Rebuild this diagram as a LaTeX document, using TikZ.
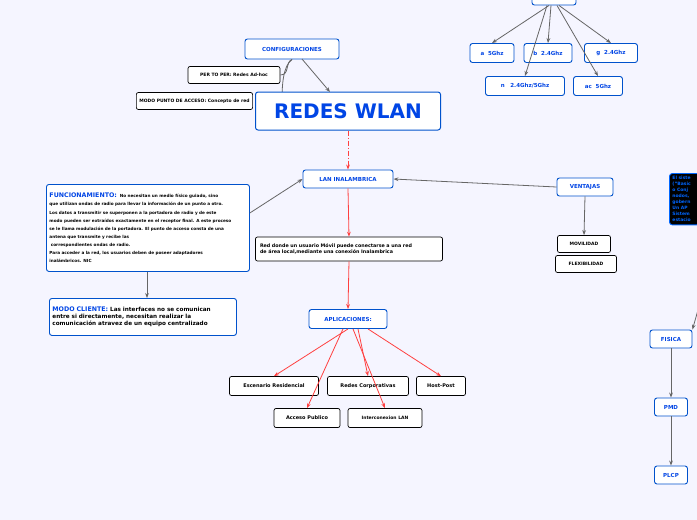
\documentclass[tikz,border=0pt]{standalone}
\usepackage{fontspec}
\setmainfont{DejaVu Sans}
\usetikzlibrary{arrows.meta}
\begin{document}
\begin{tikzpicture}[x=1pt,y=-1pt,
  blue box/.style={draw=blue!60!cyan!80!black,line width=0.9pt,rounded corners=2.5pt,fill=white,text=blue!70!cyan!90!black,font=\bfseries\fontsize{5.5}{6}\selectfont,inner sep=3pt},
  black box/.style={draw=black,line width=0.7pt,rounded corners=2pt,fill=white,font=\bfseries\fontsize{4.5}{5.5}\selectfont,inner sep=3pt},
  garrow/.style={draw=gray!80!black,line width=0.8pt,-{Stealth[length=5pt]}},
  rarrow/.style={draw=red!75!white,line width=0.8pt,-{Stealth[length=5pt]}},
  gline/.style={draw=gray!80!black,line width=0.8pt}]
\fill[blue!4!white] (0,0) rectangle (697,520);
\useasboundingbox (0,0) rectangle (697,520);
% configuraciones
\node[blue box,minimum width=94pt,minimum height=20pt] (conf) at (292,49) {CONFIGURACIONES};
\node[black box,minimum width=92pt,minimum height=17pt] (per) at (234,75) {PER TO PER: Redes Ad-hoc};
\node[black box,anchor=west,minimum height=17pt] (mpa) at (136,101) {MODO PUNTO DE ACCESO: Concepto de red};
\draw[gline] (conf.south) .. controls (285,62) and (290,75) .. (per.east);
\draw[gline] (conf.south) .. controls (283,66) and (282,85) .. (282,101);
\node[blue box,font=\bfseries\fontsize{20}{22}\selectfont,minimum width=185pt,minimum height=38pt,line width=1pt] (wlan) at (348,111) {REDES WLAN};
\coordinate (cs) at (302,59);
\draw[garrow] (cs) -- (330,92);
% LAN
\node[blue box,minimum width=90pt,minimum height=18pt] (lan) at (348,179) {LAN INALAMBRICA};
\draw[red!75!white,line width=0.8pt,dash pattern=on 5pt off 2pt on 1pt off 2pt,-{Stealth[length=5pt]}] (wlan.south) -- (lan.north);
\node[blue box,minimum width=56pt,minimum height=18pt] (vent) at (585,187) {VENTAJAS};
\draw[garrow] (vent.west) -- (lan.east);
\node[black box,minimum width=53pt,minimum height=17pt] (mov) at (584,244) {MOVILIDAD};
\node[black box,minimum width=61pt,minimum height=17pt] (flex) at (586,264) {FLEXIBILIDAD};
\draw[garrow] (vent.south) -- (mov.north);
\node[black box,font=\bfseries\fontsize{4.8}{5.8}\selectfont,minimum width=187pt,minimum height=24pt,align=left,text width=178pt] (red) at (349,249) {Red donde un usuario Móvil puede conectarse a una red\\de área local,mediante una conexión Inalambrica};
\draw[rarrow] (lan.south) -- (red.north);
% funcionamiento
\node[blue box,text=black,anchor=north west,text width=197pt,minimum height=87pt,align=left,font=\bfseries\fontsize{4.2}{8.1}\selectfont] (func) at (46,184) {{\color{blue!70!cyan!90!black}\fontsize{6.3}{7}\selectfont FUNCIONAMIENTO:}\ \ No necesitan un medio físico guiado, sino\\que utilizan ondas de radio para llevar la información de un punto a otro.\\Los datos a transmitir se superponen a la portadora de radio y de este\\modo pueden ser extraídos exactamente en el receptor final. A este proceso\\se le llama modulación de la portadora. El punto de acceso consta de una\\antena que transmite y recibe las\\ \ correspondientes ondas de radio.\\Para acceder a la red, los usuarios deben de poseer adaptadores\\inalámbricos. NIC};
\draw[garrow] (func.east) ++(0,-15) -- (lan.west);
\node[blue box,text=black,anchor=north west,text width=181pt,minimum height=37pt,align=left,font=\bfseries\fontsize{5.7}{6.8}\selectfont] (cli) at (49,298) {{\color{blue!70!cyan!90!black}\fontsize{6.3}{7}\selectfont MODO CLIENTE:} Las interfaces no se comunican\\entre si directamente, necesitan realizar la\\comunicación atravez de un equipo centralizado};
\draw[garrow] (func.south -| 147,0) -- (cli.north -| 147,0);
% aplicaciones
\node[blue box,minimum width=78pt,minimum height=19pt] (apl) at (348,319) {APLICACIONES:};
\draw[rarrow] (red.south) -- (apl.north);
\node[black box,font=\bfseries\fontsize{5}{6}\selectfont,minimum width=89pt,minimum height=19pt] (esc) at (274,386) {Escenario Residencial};
\node[black box,font=\bfseries\fontsize{5}{6}\selectfont,minimum width=81pt,minimum height=19pt] (corp) at (368,386) {Redes Corporativas};
\node[black box,font=\bfseries\fontsize{5}{6}\selectfont,minimum width=49pt,minimum height=19pt] (host) at (441,386) {Host-Post};
\node[black box,font=\bfseries\fontsize{5}{6}\selectfont,minimum width=66pt,minimum height=19pt] (acc) at (307,418) {Acceso Publico};
\node[black box,minimum width=74pt,minimum height=19pt] (inter) at (385,418) {Interconexion LAN};
\draw[rarrow] (apl.south) -- (esc.north);
\draw[rarrow] (apl.south) ++(10,0) -- (corp.north);
\draw[rarrow] (apl.south) ++(20,0) -- (host.north);
\draw[rarrow] (apl.south) ++(-5,0) -- (acc.north);
\draw[rarrow] (apl.south) ++(5,0) -- (inter.north);
% top right
\node[blue box,minimum width=44pt,minimum height=18pt] (top) at (554,-4) {};
\node[blue box,minimum width=44pt,minimum height=19pt] (a) at (492,53) {a\ \ 5Ghz};
\node[blue box,minimum width=48pt,minimum height=19pt] (b) at (548,53) {b\ \ 2.4Ghz};
\node[blue box,minimum width=53pt,minimum height=19pt] (g) at (611,53) {g\ \ 2.4Ghz};
\node[blue box,minimum width=79pt,minimum height=19pt] (n) at (525,86) {n\ \ \ 2.4Ghz/5Ghz};
\node[blue box,minimum width=49pt,minimum height=19pt] (ac) at (598,86) {ac\ \ 5Ghz};
\draw[garrow] (top.south) ++(-5,0) -- (a.north);
\draw[garrow] (top.south) ++(-3,0) -- (b.north);
\draw[garrow] (top.south) ++(5,0) -- (g.north);
\draw[garrow] (top.south) ++(-7,0) -- (n.north);
\draw[garrow] (top.south) ++(3,0) -- (ac.north);
% right
\node[draw=blue!60!cyan,line width=0.9pt,rounded corners=3pt,fill=black,text=blue!60!cyan,anchor=north west,text width=24pt,align=left,font=\bfseries\fontsize{4.5}{6}\selectfont,inner sep=3pt] (sis) at (669,173) {El siste\\("Basic\\o Conj\\nodos,\\gobern\\Un AP\\Sistem\\estacio};
\node[blue box,minimum width=42pt,minimum height=18pt] (fis) at (671,339) {FISICA};
\node[blue box,minimum width=33pt,minimum height=18pt] (pmd) at (671,407) {PMD};
\node[blue box,minimum width=33pt,minimum height=18pt] (plcp) at (671,475) {PLCP};
\coordinate (rin) at (700,303);
\draw[garrow] (rin) -- (fis.north east);
\draw[garrow] (fis.south) -- (pmd.north);
\draw[garrow] (pmd.south) -- (plcp.north);
\end{tikzpicture}
\end{document}
